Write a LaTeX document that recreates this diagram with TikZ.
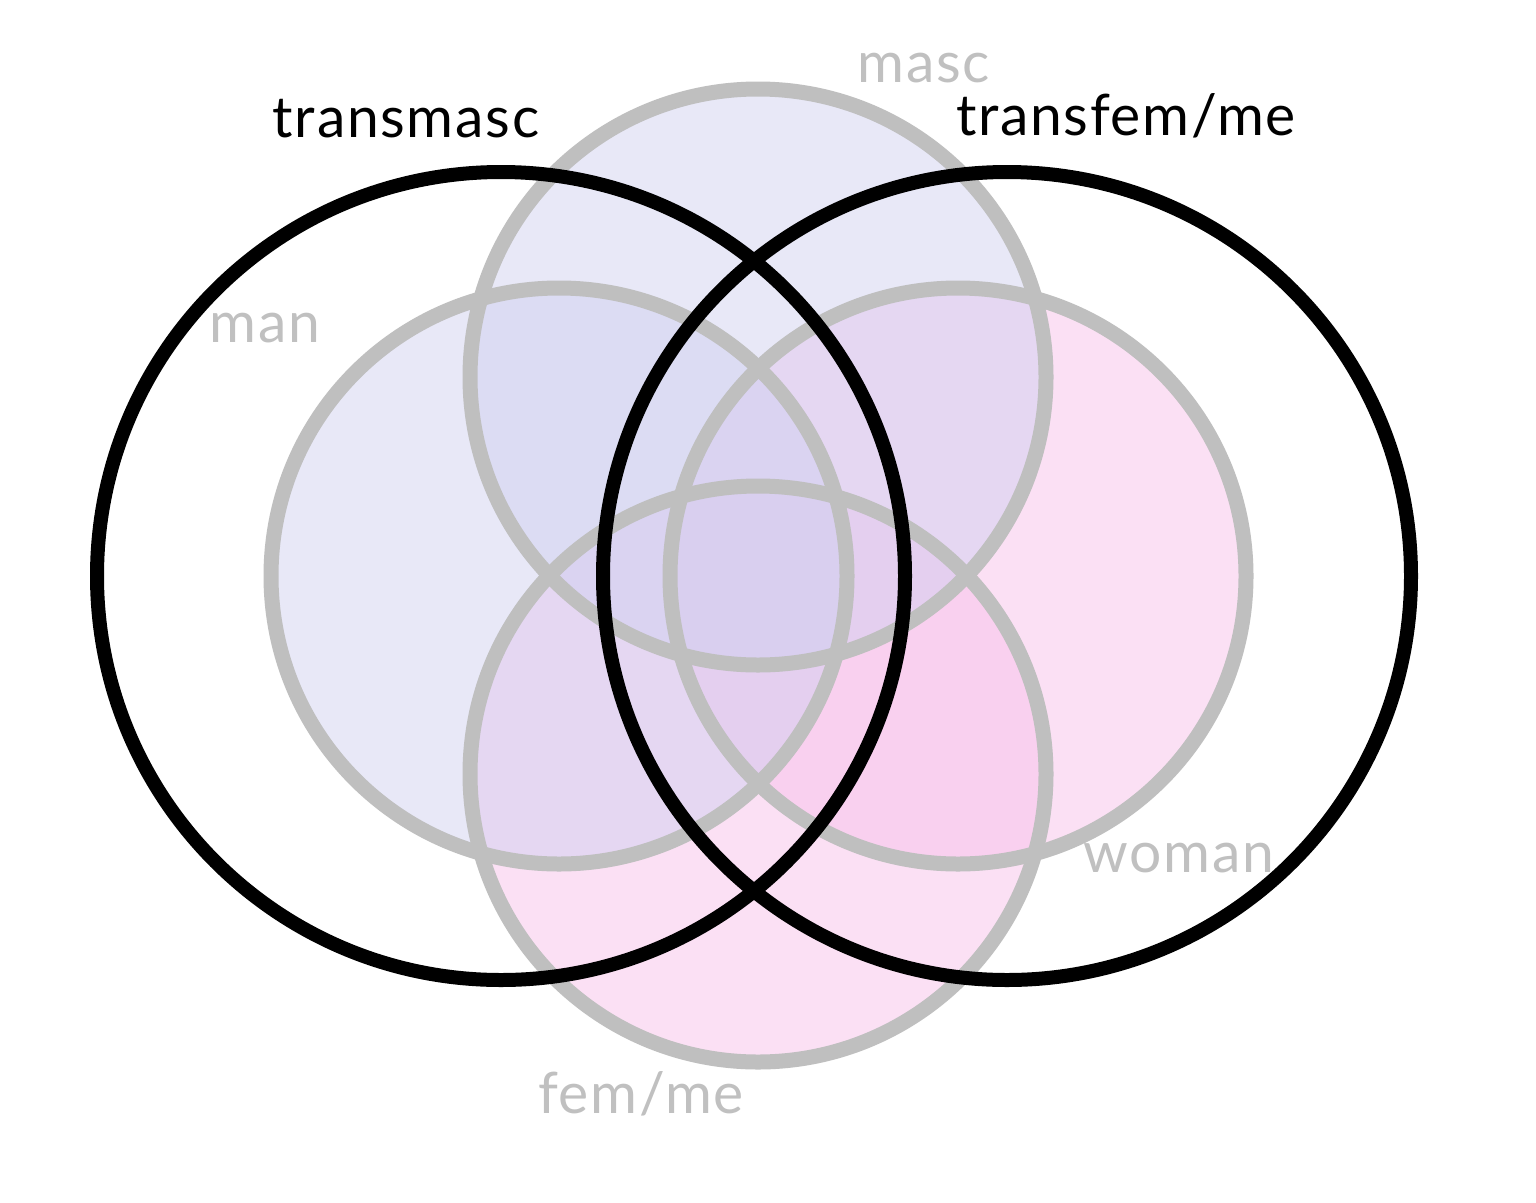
\documentclass[tikz,border=0pt]{standalone}
\usepackage{fontspec}
\setmainfont[LetterSpace=3]{Lato}
\definecolor{bluefill}{RGB}{207,207,240}
\definecolor{pinkfill}{RGB}{247,191,234}
\definecolor{ringgray}{RGB}{191,191,191}
\definecolor{textgray}{RGB}{192,192,192}
\tikzset{
  bluearea/.style={fill=bluefill, fill opacity=0.48},
  pinkarea/.style={fill=pinkfill, fill opacity=0.48},
  grayring/.style={draw=ringgray, line width=15pt},
  blackring/.style={draw=black, line width=14pt},
  lbl/.style={anchor=base, inner sep=0pt, font=\fontsize{57}{62}\selectfont},
  graylbl/.style={lbl, text=textgray},
  blacklbl/.style={lbl, text=black}
}
\begin{document}
\begin{tikzpicture}[x=1pt,y=-1pt]
\useasboundingbox (0,0) rectangle (1536,1202);
\fill[white] (0,0) rectangle (1536,1202);
\coordinate (cmasc) at (758,377);
\coordinate (cfem) at (758,774);
\coordinate (cman) at (559,576);
\coordinate (cwoman) at (958,576);
\coordinate (ctm) at (501,576);
\coordinate (ctf) at (1007,576);
% fills
\path[pinkarea] (cwoman) circle[radius=288pt];
\path[pinkarea] (cfem) circle[radius=288pt];
\path[bluearea] (cmasc) circle[radius=288pt];
\path[bluearea] (cman) circle[radius=288pt];
% gray rings
\draw[grayring] (cmasc) circle[radius=288pt];
\draw[grayring] (cfem) circle[radius=288pt];
\draw[grayring] (cman) circle[radius=288pt];
\draw[grayring] (cwoman) circle[radius=288pt];
% black rings
\draw[blackring] (ctm) circle[radius=404pt];
\draw[blackring] (ctf) circle[radius=404pt];
% labels
\node[graylbl] (lmasc) at (924,82) {masc};
\node[blacklbl] (ltm) at (406,137) {transmasc};
\node[blacklbl] (ltf) at (1126,135) {transfem/me};
\node[graylbl] (lman) at (265,342) {man};
\node[graylbl] (lwoman) at (1179,872) {woman};
\node[graylbl] (lfem) at (641,1113) {fem/me};
\end{tikzpicture}
\end{document}
